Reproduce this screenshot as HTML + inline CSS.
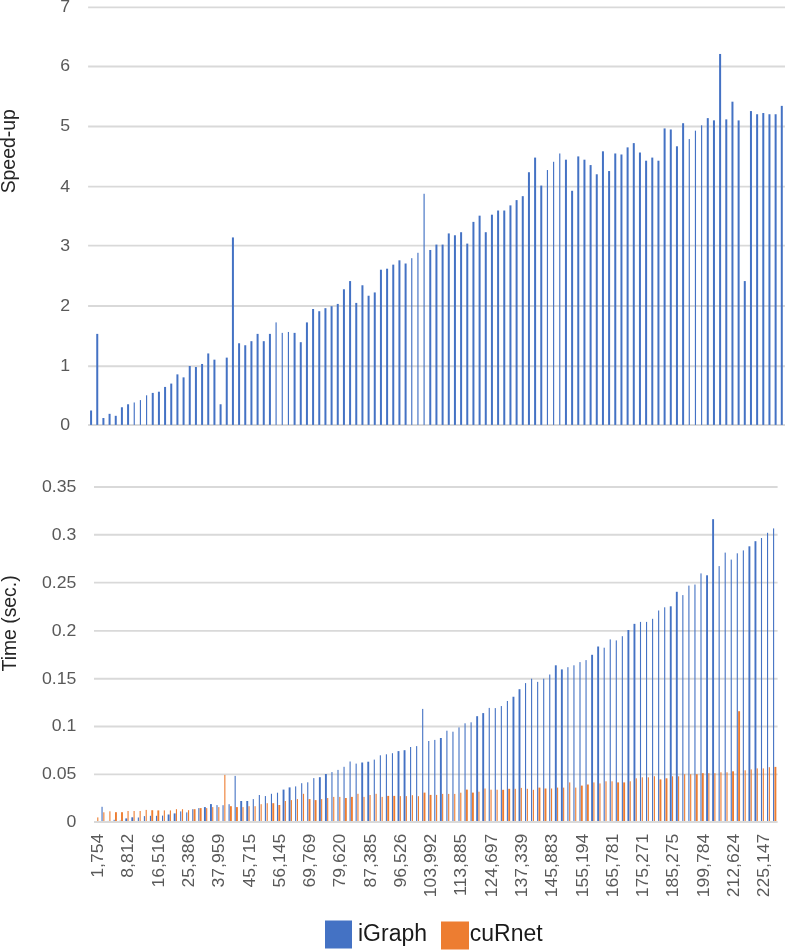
<!DOCTYPE html>
<html lang="en">
<head>
<meta charset="utf-8">
<title>Speed-up and Time: iGraph vs cuRnet</title>
<style>
html,body{margin:0;padding:0;background:#fff;}
body{width:785px;height:950px;overflow:hidden;font-family:"Liberation Sans",Arial,sans-serif;}
svg{display:block;}
</style>
</head>
<body>
<svg width="785" height="950" viewBox="0 0 785 950" font-family="'Liberation Sans', Arial, sans-serif">
<rect width="785" height="950" fill="#fff"/>
<g stroke="#D9D9D9" stroke-width="1.9">
<line x1="88.1" y1="425.00" x2="785" y2="425.00"/>
<line x1="88.1" y1="366.20" x2="785" y2="366.20"/>
<line x1="88.1" y1="306.05" x2="785" y2="306.05"/>
<line x1="88.1" y1="245.65" x2="785" y2="245.65"/>
<line x1="88.1" y1="186.65" x2="785" y2="186.65"/>
<line x1="88.1" y1="126.55" x2="785" y2="126.55"/>
<line x1="88.1" y1="66.45" x2="785" y2="66.45"/>
<line x1="88.1" y1="7.35" x2="785" y2="7.35"/>
</g>
<g font-size="17" fill="#595959" text-anchor="end">
<text transform="translate(70,429.90) scale(1.04,1)">0</text>
<text transform="translate(70,371.10) scale(1.04,1)">1</text>
<text transform="translate(70,310.95) scale(1.04,1)">2</text>
<text transform="translate(70,250.55) scale(1.04,1)">3</text>
<text transform="translate(70,191.55) scale(1.04,1)">4</text>
<text transform="translate(70,131.45) scale(1.04,1)">5</text>
<text transform="translate(70,71.35) scale(1.04,1)">6</text>
<text transform="translate(70,12.25) scale(1.04,1)">7</text>
</g>
<g fill="#4472C4">
<rect x="90.08" y="410.49" width="2.0" height="14.41"/>
<rect x="96.25" y="333.88" width="2.0" height="91.02"/>
<rect x="102.41" y="418.02" width="2.0" height="6.88"/>
<rect x="108.58" y="413.84" width="2.0" height="11.06"/>
<rect x="114.75" y="415.81" width="2.0" height="9.09"/>
<rect x="120.91" y="407.26" width="2.0" height="17.64"/>
<rect x="127.08" y="404.27" width="2.0" height="20.63"/>
<rect x="133.67" y="402.47" width="1.15" height="22.43"/>
<rect x="139.84" y="400.08" width="1.15" height="24.82"/>
<rect x="146.01" y="395.30" width="1.15" height="29.60"/>
<rect x="151.75" y="392.91" width="2.0" height="31.99"/>
<rect x="157.92" y="391.71" width="2.0" height="33.19"/>
<rect x="164.08" y="386.93" width="2.0" height="37.97"/>
<rect x="170.25" y="383.58" width="2.0" height="41.32"/>
<rect x="176.42" y="374.37" width="2.0" height="50.53"/>
<rect x="182.58" y="377.36" width="2.0" height="47.54"/>
<rect x="188.75" y="366.00" width="2.0" height="58.90"/>
<rect x="194.92" y="367.01" width="2.0" height="57.89"/>
<rect x="201.09" y="363.96" width="2.0" height="60.94"/>
<rect x="207.25" y="353.44" width="2.0" height="71.46"/>
<rect x="213.42" y="359.66" width="2.0" height="65.24"/>
<rect x="219.59" y="404.27" width="2.0" height="20.63"/>
<rect x="225.75" y="357.62" width="2.0" height="67.28"/>
<rect x="231.92" y="237.43" width="2.0" height="187.47"/>
<rect x="238.09" y="343.27" width="2.0" height="81.63"/>
<rect x="244.25" y="345.25" width="2.0" height="79.65"/>
<rect x="250.42" y="341.18" width="2.0" height="83.72"/>
<rect x="256.59" y="333.88" width="2.0" height="91.02"/>
<rect x="262.76" y="341.18" width="2.0" height="83.72"/>
<rect x="268.92" y="333.88" width="2.0" height="91.02"/>
<rect x="275.51" y="322.40" width="1.15" height="102.50"/>
<rect x="281.68" y="332.87" width="1.15" height="92.03"/>
<rect x="287.85" y="331.97" width="1.15" height="92.93"/>
<rect x="293.59" y="332.87" width="2.0" height="92.03"/>
<rect x="299.76" y="342.20" width="2.0" height="82.70"/>
<rect x="305.93" y="322.40" width="2.0" height="102.50"/>
<rect x="312.09" y="309.01" width="2.0" height="115.89"/>
<rect x="318.26" y="311.22" width="2.0" height="113.68"/>
<rect x="324.43" y="308.17" width="2.0" height="116.73"/>
<rect x="330.59" y="306.20" width="2.0" height="118.70"/>
<rect x="336.76" y="303.92" width="2.0" height="120.98"/>
<rect x="342.93" y="289.27" width="2.0" height="135.63"/>
<rect x="349.09" y="281.08" width="2.0" height="143.82"/>
<rect x="355.26" y="302.91" width="2.0" height="121.99"/>
<rect x="361.43" y="285.27" width="2.0" height="139.63"/>
<rect x="367.59" y="295.73" width="2.0" height="129.17"/>
<rect x="373.76" y="292.44" width="2.0" height="132.46"/>
<rect x="379.93" y="269.72" width="2.0" height="155.18"/>
<rect x="386.10" y="268.70" width="2.0" height="156.20"/>
<rect x="392.26" y="264.64" width="2.0" height="160.26"/>
<rect x="398.43" y="260.33" width="2.0" height="164.57"/>
<rect x="404.60" y="263.50" width="2.0" height="161.40"/>
<rect x="411.19" y="258.18" width="1.15" height="166.72"/>
<rect x="417.36" y="252.79" width="1.15" height="172.11"/>
<rect x="423.52" y="193.77" width="1.15" height="231.13"/>
<rect x="429.26" y="249.98" width="2.0" height="174.92"/>
<rect x="435.43" y="244.60" width="2.0" height="180.30"/>
<rect x="441.60" y="244.60" width="2.0" height="180.30"/>
<rect x="447.77" y="233.42" width="2.0" height="191.48"/>
<rect x="453.93" y="235.27" width="2.0" height="189.63"/>
<rect x="460.10" y="232.22" width="2.0" height="192.68"/>
<rect x="466.27" y="243.59" width="2.0" height="181.31"/>
<rect x="472.43" y="221.88" width="2.0" height="203.02"/>
<rect x="478.60" y="215.66" width="2.0" height="209.24"/>
<rect x="484.77" y="232.22" width="2.0" height="192.68"/>
<rect x="490.93" y="214.70" width="2.0" height="210.20"/>
<rect x="497.10" y="210.52" width="2.0" height="214.38"/>
<rect x="503.27" y="210.52" width="2.0" height="214.38"/>
<rect x="509.44" y="205.37" width="2.0" height="219.53"/>
<rect x="515.60" y="200.11" width="2.0" height="224.79"/>
<rect x="521.77" y="196.16" width="2.0" height="228.74"/>
<rect x="527.94" y="172.24" width="2.0" height="252.66"/>
<rect x="534.10" y="157.59" width="2.0" height="267.31"/>
<rect x="540.27" y="185.58" width="2.0" height="239.32"/>
<rect x="546.86" y="170.03" width="1.15" height="254.87"/>
<rect x="553.03" y="161.78" width="1.15" height="263.12"/>
<rect x="559.20" y="153.47" width="1.15" height="271.43"/>
<rect x="564.94" y="159.69" width="2.0" height="265.21"/>
<rect x="571.11" y="190.78" width="2.0" height="234.12"/>
<rect x="577.27" y="156.40" width="2.0" height="268.50"/>
<rect x="583.44" y="159.69" width="2.0" height="265.21"/>
<rect x="589.61" y="165.07" width="2.0" height="259.83"/>
<rect x="595.77" y="174.28" width="2.0" height="250.62"/>
<rect x="601.94" y="151.31" width="2.0" height="273.59"/>
<rect x="608.11" y="171.05" width="2.0" height="253.85"/>
<rect x="614.27" y="153.47" width="2.0" height="271.43"/>
<rect x="620.44" y="154.48" width="2.0" height="270.42"/>
<rect x="626.61" y="147.37" width="2.0" height="277.53"/>
<rect x="632.78" y="143.12" width="2.0" height="281.78"/>
<rect x="638.94" y="152.51" width="2.0" height="272.39"/>
<rect x="645.11" y="160.70" width="2.0" height="264.20"/>
<rect x="651.28" y="157.59" width="2.0" height="267.31"/>
<rect x="657.44" y="160.70" width="2.0" height="264.20"/>
<rect x="663.61" y="128.41" width="2.0" height="296.49"/>
<rect x="669.78" y="129.49" width="2.0" height="295.41"/>
<rect x="675.95" y="146.29" width="2.0" height="278.61"/>
<rect x="682.11" y="123.21" width="2.0" height="301.69"/>
<rect x="688.70" y="139.06" width="1.15" height="285.85"/>
<rect x="694.87" y="130.68" width="1.15" height="294.22"/>
<rect x="701.04" y="125.30" width="1.15" height="299.60"/>
<rect x="706.78" y="118.13" width="2.0" height="306.77"/>
<rect x="712.95" y="120.34" width="2.0" height="304.56"/>
<rect x="719.11" y="53.96" width="2.0" height="370.94"/>
<rect x="725.28" y="119.38" width="2.0" height="305.52"/>
<rect x="731.45" y="101.68" width="2.0" height="323.22"/>
<rect x="737.62" y="120.40" width="2.0" height="304.50"/>
<rect x="743.78" y="281.08" width="2.0" height="143.82"/>
<rect x="749.95" y="111.07" width="2.0" height="313.83"/>
<rect x="756.12" y="114.24" width="2.0" height="310.66"/>
<rect x="762.28" y="113.04" width="2.0" height="311.86"/>
<rect x="768.45" y="114.24" width="2.0" height="310.66"/>
<rect x="774.62" y="114.24" width="2.0" height="310.66"/>
<rect x="780.78" y="105.87" width="2.0" height="319.03"/>
</g>
<text transform="translate(15.2,151.3) rotate(-90) scale(0.985,1)" text-anchor="middle" font-size="19.7" fill="#262626">Speed-up</text>
<g stroke="#D9D9D9" stroke-width="1.9">
<line x1="94.0" y1="774.40" x2="777.6" y2="774.40"/>
<line x1="94.0" y1="726.50" x2="777.6" y2="726.50"/>
<line x1="94.0" y1="678.75" x2="777.6" y2="678.75"/>
<line x1="94.0" y1="630.90" x2="777.6" y2="630.90"/>
<line x1="94.0" y1="582.60" x2="777.6" y2="582.60"/>
<line x1="94.0" y1="534.80" x2="777.6" y2="534.80"/>
<line x1="94.0" y1="487.00" x2="777.6" y2="487.00"/>
</g>
<g font-size="17" fill="#595959" text-anchor="end">
<text transform="translate(76.3,826.90) scale(1.04,1)">0</text>
<text transform="translate(76.3,779.30) scale(1.04,1)">0.05</text>
<text transform="translate(76.3,731.40) scale(1.04,1)">0.1</text>
<text transform="translate(76.3,683.65) scale(1.04,1)">0.15</text>
<text transform="translate(76.3,635.80) scale(1.04,1)">0.2</text>
<text transform="translate(76.3,587.50) scale(1.04,1)">0.25</text>
<text transform="translate(76.3,539.70) scale(1.04,1)">0.3</text>
<text transform="translate(76.3,491.90) scale(1.04,1)">0.35</text>
</g>
<g fill="#4472C4">
<rect x="95.45" y="821.00" width="1.1" height="0.40"/>
<rect x="101.50" y="806.80" width="1.1" height="14.60"/>
<rect x="107.55" y="820.90" width="1.1" height="0.50"/>
<rect x="113.60" y="819.80" width="1.1" height="1.60"/>
<rect x="119.65" y="820.60" width="1.1" height="0.80"/>
<rect x="125.30" y="818.40" width="1.9" height="3.00"/>
<rect x="131.35" y="817.30" width="1.9" height="4.10"/>
<rect x="137.80" y="817.50" width="1.1" height="3.90"/>
<rect x="143.85" y="816.10" width="1.1" height="5.30"/>
<rect x="149.90" y="815.80" width="1.1" height="5.60"/>
<rect x="155.95" y="815.80" width="1.1" height="5.60"/>
<rect x="162.00" y="815.60" width="1.1" height="5.80"/>
<rect x="167.65" y="814.50" width="1.9" height="6.90"/>
<rect x="173.70" y="813.40" width="1.9" height="8.00"/>
<rect x="180.15" y="811.40" width="1.1" height="10.00"/>
<rect x="186.20" y="812.40" width="1.1" height="9.00"/>
<rect x="192.25" y="809.20" width="1.1" height="12.20"/>
<rect x="198.30" y="808.10" width="1.1" height="13.30"/>
<rect x="203.95" y="807.10" width="1.9" height="14.30"/>
<rect x="210.00" y="804.10" width="1.9" height="17.30"/>
<rect x="216.45" y="805.10" width="1.1" height="16.30"/>
<rect x="222.50" y="805.20" width="1.1" height="16.20"/>
<rect x="228.55" y="804.20" width="1.1" height="17.20"/>
<rect x="234.60" y="775.90" width="1.1" height="45.50"/>
<rect x="240.25" y="801.00" width="1.9" height="20.40"/>
<rect x="246.30" y="801.00" width="1.9" height="20.40"/>
<rect x="252.75" y="799.10" width="1.1" height="22.30"/>
<rect x="258.80" y="795.00" width="1.1" height="26.40"/>
<rect x="264.85" y="796.05" width="1.1" height="25.35"/>
<rect x="270.90" y="793.80" width="1.1" height="27.60"/>
<rect x="276.95" y="792.70" width="1.1" height="28.70"/>
<rect x="282.60" y="789.60" width="1.9" height="31.80"/>
<rect x="288.65" y="787.40" width="1.9" height="34.00"/>
<rect x="295.10" y="786.40" width="1.1" height="35.00"/>
<rect x="301.15" y="783.20" width="1.1" height="38.20"/>
<rect x="307.20" y="782.30" width="1.1" height="39.10"/>
<rect x="313.25" y="778.10" width="1.1" height="43.30"/>
<rect x="318.90" y="777.20" width="1.9" height="44.20"/>
<rect x="324.95" y="774.00" width="1.9" height="47.40"/>
<rect x="331.40" y="772.10" width="1.1" height="49.30"/>
<rect x="337.45" y="769.90" width="1.1" height="51.50"/>
<rect x="343.50" y="766.80" width="1.1" height="54.60"/>
<rect x="349.55" y="761.50" width="1.1" height="59.90"/>
<rect x="355.60" y="763.60" width="1.1" height="57.80"/>
<rect x="361.25" y="762.50" width="1.9" height="58.90"/>
<rect x="367.30" y="761.70" width="1.9" height="59.70"/>
<rect x="373.75" y="759.60" width="1.1" height="61.80"/>
<rect x="379.80" y="755.30" width="1.1" height="66.10"/>
<rect x="385.85" y="754.30" width="1.1" height="67.10"/>
<rect x="391.90" y="753.20" width="1.1" height="68.20"/>
<rect x="397.55" y="751.10" width="1.9" height="70.30"/>
<rect x="403.60" y="750.20" width="1.9" height="71.20"/>
<rect x="410.05" y="747.00" width="1.1" height="74.40"/>
<rect x="416.10" y="746.10" width="1.1" height="75.30"/>
<rect x="422.15" y="708.90" width="1.1" height="112.50"/>
<rect x="428.20" y="741.00" width="1.1" height="80.40"/>
<rect x="434.25" y="739.90" width="1.1" height="81.50"/>
<rect x="439.90" y="738.00" width="1.9" height="83.40"/>
<rect x="446.35" y="730.70" width="1.1" height="90.70"/>
<rect x="452.40" y="731.70" width="1.1" height="89.70"/>
<rect x="458.45" y="727.40" width="1.1" height="94.00"/>
<rect x="464.50" y="723.30" width="1.1" height="98.10"/>
<rect x="470.55" y="722.30" width="1.1" height="99.10"/>
<rect x="476.20" y="716.20" width="1.9" height="105.20"/>
<rect x="482.25" y="713.10" width="1.9" height="108.30"/>
<rect x="488.70" y="707.90" width="1.1" height="113.50"/>
<rect x="494.75" y="708.10" width="1.1" height="113.30"/>
<rect x="500.80" y="706.05" width="1.1" height="115.35"/>
<rect x="506.85" y="701.00" width="1.1" height="120.40"/>
<rect x="512.50" y="696.75" width="1.9" height="124.65"/>
<rect x="518.55" y="689.20" width="1.9" height="132.20"/>
<rect x="525.00" y="683.10" width="1.1" height="138.30"/>
<rect x="531.05" y="678.70" width="1.1" height="142.70"/>
<rect x="537.10" y="681.85" width="1.1" height="139.55"/>
<rect x="543.15" y="678.70" width="1.1" height="142.70"/>
<rect x="549.20" y="674.50" width="1.1" height="146.90"/>
<rect x="554.85" y="665.30" width="1.9" height="156.10"/>
<rect x="560.90" y="669.40" width="1.9" height="152.00"/>
<rect x="567.35" y="667.20" width="1.1" height="154.20"/>
<rect x="573.40" y="665.30" width="1.1" height="156.10"/>
<rect x="579.45" y="662.10" width="1.1" height="159.30"/>
<rect x="585.50" y="660.10" width="1.1" height="161.30"/>
<rect x="591.15" y="654.80" width="1.9" height="166.60"/>
<rect x="597.20" y="646.50" width="1.9" height="174.90"/>
<rect x="603.65" y="647.70" width="1.1" height="173.70"/>
<rect x="609.70" y="639.40" width="1.1" height="182.00"/>
<rect x="615.75" y="640.40" width="1.1" height="181.00"/>
<rect x="621.80" y="636.20" width="1.1" height="185.20"/>
<rect x="627.45" y="630.00" width="1.9" height="191.40"/>
<rect x="633.50" y="623.85" width="1.9" height="197.55"/>
<rect x="639.95" y="621.90" width="1.1" height="199.50"/>
<rect x="646.00" y="621.90" width="1.1" height="199.50"/>
<rect x="652.05" y="618.80" width="1.1" height="202.60"/>
<rect x="658.10" y="610.50" width="1.1" height="210.90"/>
<rect x="664.15" y="607.30" width="1.1" height="214.10"/>
<rect x="669.80" y="606.30" width="1.9" height="215.10"/>
<rect x="675.85" y="591.80" width="1.9" height="229.60"/>
<rect x="682.30" y="595.10" width="1.1" height="226.30"/>
<rect x="688.35" y="585.60" width="1.1" height="235.80"/>
<rect x="694.40" y="584.55" width="1.1" height="236.85"/>
<rect x="700.45" y="573.40" width="1.1" height="248.00"/>
<rect x="706.10" y="575.30" width="1.9" height="246.10"/>
<rect x="712.15" y="519.20" width="1.9" height="302.20"/>
<rect x="718.60" y="566.10" width="1.1" height="255.30"/>
<rect x="724.65" y="552.60" width="1.1" height="268.80"/>
<rect x="730.70" y="559.60" width="1.1" height="261.80"/>
<rect x="736.75" y="553.30" width="1.1" height="268.10"/>
<rect x="742.80" y="550.40" width="1.1" height="271.00"/>
<rect x="748.45" y="546.30" width="1.9" height="275.10"/>
<rect x="754.50" y="541.20" width="1.9" height="280.20"/>
<rect x="760.95" y="538.00" width="1.1" height="283.40"/>
<rect x="767.00" y="532.80" width="1.1" height="288.60"/>
<rect x="773.05" y="528.40" width="1.1" height="293.00"/>
</g>
<g fill="#ED7D31">
<rect x="97.25" y="817.40" width="1.1" height="4.00"/>
<rect x="103.30" y="812.30" width="1.1" height="9.10"/>
<rect x="109.35" y="811.30" width="1.1" height="10.10"/>
<rect x="115.00" y="812.20" width="1.9" height="9.20"/>
<rect x="121.05" y="812.20" width="1.9" height="9.20"/>
<rect x="127.50" y="811.00" width="1.1" height="10.40"/>
<rect x="133.55" y="811.00" width="1.1" height="10.40"/>
<rect x="139.60" y="811.00" width="1.1" height="10.40"/>
<rect x="145.65" y="809.90" width="1.1" height="11.50"/>
<rect x="151.30" y="810.20" width="1.9" height="11.20"/>
<rect x="157.35" y="810.40" width="1.9" height="11.00"/>
<rect x="163.80" y="810.40" width="1.1" height="11.00"/>
<rect x="169.85" y="810.40" width="1.1" height="11.00"/>
<rect x="175.90" y="809.20" width="1.1" height="12.20"/>
<rect x="181.95" y="809.20" width="1.1" height="12.20"/>
<rect x="188.00" y="810.20" width="1.1" height="11.20"/>
<rect x="193.65" y="809.20" width="1.9" height="12.20"/>
<rect x="199.70" y="808.10" width="1.9" height="13.30"/>
<rect x="206.15" y="808.10" width="1.1" height="13.30"/>
<rect x="212.20" y="807.10" width="1.1" height="14.30"/>
<rect x="218.25" y="807.10" width="1.1" height="14.30"/>
<rect x="224.30" y="774.90" width="1.1" height="46.50"/>
<rect x="229.95" y="806.20" width="1.9" height="15.20"/>
<rect x="236.00" y="807.10" width="1.9" height="14.30"/>
<rect x="242.45" y="807.10" width="1.1" height="14.30"/>
<rect x="248.50" y="806.20" width="1.1" height="15.20"/>
<rect x="254.55" y="806.20" width="1.1" height="15.20"/>
<rect x="260.60" y="804.20" width="1.1" height="17.20"/>
<rect x="266.65" y="803.20" width="1.1" height="18.20"/>
<rect x="272.30" y="803.20" width="1.9" height="18.20"/>
<rect x="278.35" y="805.00" width="1.9" height="16.40"/>
<rect x="284.80" y="801.00" width="1.1" height="20.40"/>
<rect x="290.85" y="800.10" width="1.1" height="21.30"/>
<rect x="296.90" y="799.10" width="1.1" height="22.30"/>
<rect x="302.95" y="793.80" width="1.1" height="27.60"/>
<rect x="308.60" y="799.10" width="1.9" height="22.30"/>
<rect x="314.65" y="800.10" width="1.9" height="21.30"/>
<rect x="321.10" y="799.10" width="1.1" height="22.30"/>
<rect x="327.15" y="798.00" width="1.1" height="23.40"/>
<rect x="333.20" y="796.90" width="1.1" height="24.50"/>
<rect x="339.25" y="796.90" width="1.1" height="24.50"/>
<rect x="344.90" y="798.00" width="1.9" height="23.40"/>
<rect x="350.95" y="796.90" width="1.9" height="24.50"/>
<rect x="357.40" y="793.80" width="1.1" height="27.60"/>
<rect x="363.45" y="796.90" width="1.1" height="24.50"/>
<rect x="369.50" y="795.00" width="1.1" height="26.40"/>
<rect x="375.55" y="793.80" width="1.1" height="27.60"/>
<rect x="381.60" y="796.90" width="1.1" height="24.50"/>
<rect x="387.25" y="795.90" width="1.9" height="25.50"/>
<rect x="393.30" y="795.90" width="1.9" height="25.50"/>
<rect x="399.75" y="796.10" width="1.1" height="25.30"/>
<rect x="405.80" y="796.10" width="1.1" height="25.30"/>
<rect x="411.85" y="795.20" width="1.1" height="26.20"/>
<rect x="417.90" y="796.20" width="1.1" height="25.20"/>
<rect x="423.55" y="792.60" width="1.9" height="28.80"/>
<rect x="429.60" y="794.90" width="1.9" height="26.50"/>
<rect x="436.05" y="794.90" width="1.1" height="26.50"/>
<rect x="442.10" y="793.90" width="1.1" height="27.50"/>
<rect x="448.15" y="793.90" width="1.1" height="27.50"/>
<rect x="454.20" y="793.90" width="1.1" height="27.50"/>
<rect x="460.25" y="792.70" width="1.1" height="28.70"/>
<rect x="465.90" y="789.60" width="1.9" height="31.80"/>
<rect x="471.95" y="792.60" width="1.9" height="28.80"/>
<rect x="478.40" y="791.70" width="1.1" height="29.70"/>
<rect x="484.45" y="788.50" width="1.1" height="32.90"/>
<rect x="490.50" y="789.70" width="1.1" height="31.70"/>
<rect x="496.55" y="789.70" width="1.1" height="31.70"/>
<rect x="502.20" y="789.80" width="1.9" height="31.60"/>
<rect x="508.25" y="788.80" width="1.9" height="32.60"/>
<rect x="514.70" y="788.80" width="1.1" height="32.60"/>
<rect x="520.75" y="787.90" width="1.1" height="33.50"/>
<rect x="526.80" y="788.80" width="1.1" height="32.60"/>
<rect x="532.85" y="789.80" width="1.1" height="31.60"/>
<rect x="538.50" y="787.60" width="1.9" height="33.80"/>
<rect x="544.55" y="788.50" width="1.9" height="32.90"/>
<rect x="551.00" y="788.50" width="1.1" height="32.90"/>
<rect x="557.05" y="787.60" width="1.1" height="33.80"/>
<rect x="563.10" y="787.60" width="1.1" height="33.80"/>
<rect x="569.15" y="782.40" width="1.1" height="39.00"/>
<rect x="575.20" y="787.60" width="1.1" height="33.80"/>
<rect x="580.85" y="785.60" width="1.9" height="35.80"/>
<rect x="586.90" y="784.50" width="1.9" height="36.90"/>
<rect x="593.35" y="782.40" width="1.1" height="39.00"/>
<rect x="599.40" y="783.40" width="1.1" height="38.00"/>
<rect x="605.45" y="781.30" width="1.1" height="40.10"/>
<rect x="611.50" y="781.30" width="1.1" height="40.10"/>
<rect x="617.15" y="782.40" width="1.9" height="39.00"/>
<rect x="623.20" y="782.40" width="1.9" height="39.00"/>
<rect x="629.65" y="781.30" width="1.1" height="40.10"/>
<rect x="635.70" y="778.30" width="1.1" height="43.10"/>
<rect x="641.75" y="777.30" width="1.1" height="44.10"/>
<rect x="647.80" y="777.30" width="1.1" height="44.10"/>
<rect x="653.85" y="776.20" width="1.1" height="45.20"/>
<rect x="659.50" y="779.40" width="1.9" height="42.00"/>
<rect x="665.55" y="778.30" width="1.9" height="43.10"/>
<rect x="672.00" y="776.30" width="1.1" height="45.10"/>
<rect x="678.05" y="776.30" width="1.1" height="45.10"/>
<rect x="684.10" y="774.20" width="1.1" height="47.20"/>
<rect x="690.15" y="774.20" width="1.1" height="47.20"/>
<rect x="695.80" y="774.20" width="1.9" height="47.20"/>
<rect x="701.85" y="773.20" width="1.9" height="48.20"/>
<rect x="708.30" y="773.20" width="1.1" height="48.20"/>
<rect x="714.35" y="773.20" width="1.1" height="48.20"/>
<rect x="720.40" y="772.30" width="1.1" height="49.10"/>
<rect x="726.45" y="772.30" width="1.1" height="49.10"/>
<rect x="732.10" y="771.30" width="1.9" height="50.10"/>
<rect x="738.15" y="711.20" width="1.9" height="110.20"/>
<rect x="744.60" y="770.30" width="1.1" height="51.10"/>
<rect x="750.65" y="769.40" width="1.1" height="52.00"/>
<rect x="756.70" y="768.40" width="1.1" height="53.00"/>
<rect x="762.75" y="768.40" width="1.1" height="53.00"/>
<rect x="768.80" y="767.20" width="1.1" height="54.20"/>
<rect x="774.45" y="766.90" width="1.9" height="54.50"/>
</g>
<line x1="94.0" y1="822.00" x2="777.6" y2="822.00" stroke="#D9D9D9" stroke-width="2"/>
<text transform="translate(15.6,623.4) rotate(-90) scale(0.982,1)" text-anchor="middle" font-size="19.7" fill="#262626">Time (sec.)</text>
<g font-size="17" fill="#595959" text-anchor="end">
<text transform="translate(103.15,833.8) rotate(-90) scale(1.032,1)">1,754</text>
<text transform="translate(133.43,833.8) rotate(-90) scale(1.032,1)">8,812</text>
<text transform="translate(163.70,833.8) rotate(-90) scale(1.032,1)">16,516</text>
<text transform="translate(193.97,833.8) rotate(-90) scale(1.032,1)">25,386</text>
<text transform="translate(224.25,833.8) rotate(-90) scale(1.032,1)">37,959</text>
<text transform="translate(254.53,833.8) rotate(-90) scale(1.032,1)">45,715</text>
<text transform="translate(284.80,833.8) rotate(-90) scale(1.032,1)">56,145</text>
<text transform="translate(315.07,833.8) rotate(-90) scale(1.032,1)">69,769</text>
<text transform="translate(345.35,833.8) rotate(-90) scale(1.032,1)">79,620</text>
<text transform="translate(375.62,833.8) rotate(-90) scale(1.032,1)">87,385</text>
<text transform="translate(405.90,833.8) rotate(-90) scale(1.032,1)">96,526</text>
<text transform="translate(436.17,833.8) rotate(-90) scale(1.032,1)">103,992</text>
<text transform="translate(466.45,833.8) rotate(-90) scale(1.032,1)">113,885</text>
<text transform="translate(496.73,833.8) rotate(-90) scale(1.032,1)">124,697</text>
<text transform="translate(527.00,833.8) rotate(-90) scale(1.032,1)">137,339</text>
<text transform="translate(557.27,833.8) rotate(-90) scale(1.032,1)">145,883</text>
<text transform="translate(587.55,833.8) rotate(-90) scale(1.032,1)">155,194</text>
<text transform="translate(617.82,833.8) rotate(-90) scale(1.032,1)">165,781</text>
<text transform="translate(648.10,833.8) rotate(-90) scale(1.032,1)">175,271</text>
<text transform="translate(678.38,833.8) rotate(-90) scale(1.032,1)">185,275</text>
<text transform="translate(708.65,833.8) rotate(-90) scale(1.032,1)">199,784</text>
<text transform="translate(738.92,833.8) rotate(-90) scale(1.032,1)">212,624</text>
<text transform="translate(769.20,833.8) rotate(-90) scale(1.032,1)">225,147</text>
</g>
<rect x="325" y="920.5" width="27" height="28" fill="#4472C4"/>
<text x="358" y="940.8" font-size="23" fill="#1a1a1a">iGraph</text>
<rect x="441" y="921.5" width="28" height="28" fill="#ED7D31"/>
<text x="469.8" y="940.8" font-size="23" fill="#1a1a1a">cuRnet</text>
</svg>
</body>
</html>
